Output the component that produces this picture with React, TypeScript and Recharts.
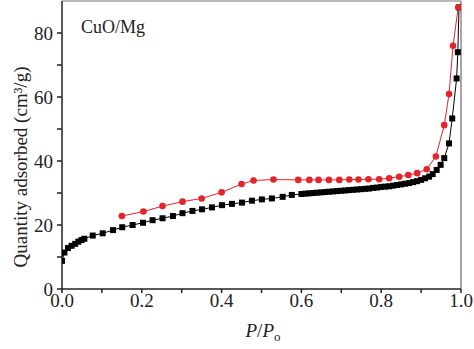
import React from 'react';
import { ScatterChart, Scatter, XAxis, YAxis, ReferenceLine } from 'recharts';

const xTicks = [0, 0.1, 0.2, 0.3, 0.4, 0.5, 0.6, 0.7, 0.8, 0.9, 1.0];
const xLabeled = ['0.0', '0.2', '0.4', '0.6', '0.8', '1.0'];
const yTicks = [0, 10, 20, 30, 40, 50, 60, 70, 80];
const yLabeled = [0, 20, 40, 60, 80];

const adsorptionX = [
  0.0, 0.006, 0.015, 0.024, 0.033, 0.041, 0.049, 0.056, 0.077, 0.102, 0.128, 0.151, 0.177, 0.203,
  0.227, 0.252, 0.278, 0.302, 0.327, 0.351, 0.376, 0.401, 0.426, 0.451, 0.476, 0.501, 0.526,
  0.553, 0.576, 0.6, 0.61, 0.62, 0.63, 0.64, 0.65, 0.66, 0.67, 0.68, 0.69, 0.7, 0.71, 0.72,
  0.73, 0.74, 0.75, 0.76, 0.77, 0.78, 0.79, 0.8, 0.81, 0.82, 0.83, 0.84, 0.85, 0.86, 0.87,
  0.88, 0.89, 0.9, 0.91, 0.92, 0.929, 0.939, 0.949, 0.958, 0.97, 0.978, 0.989, 0.992, 0.995,
];
const adsorptionY = [
  8.8, 11.4, 12.8, 13.5, 14.1, 14.8, 15.3, 15.7, 16.7, 17.4, 18.4, 19.3, 20.0, 20.7,
  21.5, 22.1, 22.8, 23.7, 24.4, 24.9, 25.5, 26.2, 26.6, 27.0, 27.6, 28.0, 28.3,
  28.8, 29.4, 29.7, 29.8, 29.9, 30.0, 30.1, 30.2, 30.3, 30.4, 30.5, 30.6, 30.7, 30.8, 30.9,
  31.0, 31.1, 31.2, 31.3, 31.4, 31.6, 31.7, 31.9, 32.0, 32.1, 32.3, 32.5, 32.7, 32.9, 33.1,
  33.4, 33.7, 34.1, 34.6, 35.1, 35.9, 37.2, 38.8, 40.9, 45.5, 53.3, 65.8, 74.0, 88.0,
];

const desorptionX = [
  0.15, 0.204, 0.252, 0.302, 0.35, 0.4, 0.45, 0.48, 0.53, 0.592, 0.62, 0.643, 0.669, 0.695,
  0.72, 0.743, 0.768, 0.795, 0.82, 0.845, 0.868, 0.89, 0.914, 0.937, 0.958, 0.97, 0.98, 0.993,
];
const desorptionY = [
  22.8, 24.2, 25.9, 27.3, 28.3, 30.2, 32.8, 33.9, 34.2, 34.1, 34.1, 34.1, 34.1, 34.1,
  34.2, 34.2, 34.3, 34.3, 34.6, 35.1, 35.6, 36.2, 37.4, 41.4, 51.2, 60.9, 76.0, 88.0,
];

const adsorption = adsorptionX.map((x, i) => ({ x, y: adsorptionY[i] }));
const desorption = desorptionX.map((x, i) => ({ x, y: desorptionY[i] }));

const FONT = '"Liberation Serif", "Times New Roman", serif';
const RED = '#e5232b';
const INK = '#222';

const Square = (p: any) => (
  <rect x={p.cx - 3} y={p.cy - 3} width={6} height={6} fill="#000" />
);
const Dot = (p: any) => <circle cx={p.cx} cy={p.cy} r={3.3} fill={RED} />;

export default function App() {
  return (
    <div style={{ position: 'absolute', left: 0, top: 0, width: 474, height: 349, background: '#fff' }}>
      <ScatterChart width={474} height={349} margin={{ top: 1, right: 13, bottom: 0, left: 0 }}>
        <XAxis
          type="number"
          dataKey="x"
          domain={[0, 1]}
          ticks={xTicks}
          height={60}
          tickSize={4}
          tickMargin={1}
          interval={0}
          allowDataOverflow
          stroke={INK}
          strokeWidth={1.5}
          tick={{ fontFamily: FONT, fontSize: 19, fill: INK }}
          tickFormatter={(v: number) => {
            const s = v.toFixed(1);
            return xLabeled.includes(s) ? s : '';
          }}
        />
        <YAxis
          type="number"
          dataKey="y"
          domain={[0, 90]}
          ticks={yTicks}
          width={62}
          tickSize={5}
          tickMargin={4}
          interval={0}
          allowDataOverflow
          stroke={INK}
          strokeWidth={1.5}
          tick={{ fontFamily: FONT, fontSize: 19, fill: INK }}
          tickFormatter={(v: number) => (yLabeled.includes(v) ? String(v) : '')}
        />
        <ReferenceLine y={90} stroke="#b8b8b8" strokeWidth={2} />
        <ReferenceLine x={1} stroke="#8a8a8a" strokeWidth={1.5} />
        <Scatter
          data={adsorption}
          line={{ stroke: '#000', strokeWidth: 1 }}
          lineType="joint"
          shape={Square}
          isAnimationActive={false}
        />
        <Scatter
          data={desorption}
          line={{ stroke: RED, strokeWidth: 1 }}
          lineType="joint"
          shape={Dot}
          isAnimationActive={false}
        />
      </ScatterChart>
      <svg
        width={474}
        height={349}
        style={{ position: 'absolute', left: 0, top: 0, pointerEvents: 'none' }}
      >
        <text x={81} y={33} fontFamily={FONT} fontSize={18} fill={INK}>
          CuO/Mg
        </text>
        <text
          x={27}
          y={167}
          transform="rotate(-90, 27, 167)"
          textAnchor="middle"
          fontFamily={FONT}
          fontSize={19}
          fill={INK}
        >
          Quantity adsorbed (cm³/g)
        </text>
        <text x={263} y={337} textAnchor="middle" fontFamily={FONT} fontSize={19} fill={INK}>
          <tspan fontStyle="italic">P</tspan>
          <tspan>/</tspan>
          <tspan fontStyle="italic">P</tspan>
          <tspan fontSize={13} dy={4}>o</tspan>
        </text>
      </svg>
    </div>
  );
}
